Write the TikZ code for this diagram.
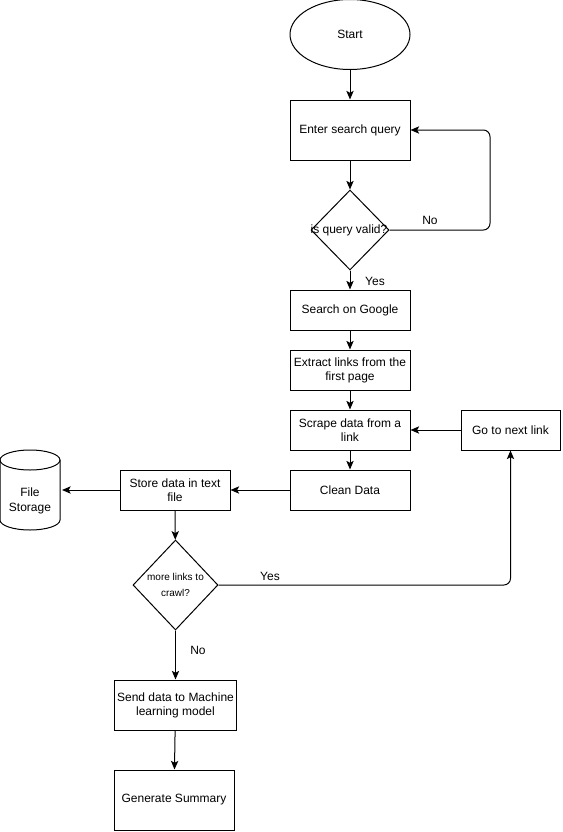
\documentclass[tikz,border=0pt]{standalone}
\usepackage{fontspec}
\setmainfont{Liberation Sans}
\usetikzlibrary{shapes.geometric,arrows.meta}
\begin{document}
\begin{tikzpicture}[x=0.75pt,y=-0.75pt,
  every node/.style={font=\fontsize{9}{10.5}\selectfont, inner sep=0pt},
  box/.style={draw, line width=0.75pt, fill=white, align=center},
  arr/.style={draw, line width=0.75pt, -{Stealth[length=6.5pt,width=5.5pt,inset=1.5pt]}},
  lbl/.style={font=\fontsize{9}{10.5}\selectfont}
]
\useasboundingbox (0,0) rectangle (562,832);
% nodes
\node[ellipse, draw, line width=0.75pt, minimum width=90pt, minimum height=52.5pt] (start) at (350,34.5) {Start};
\node[box, minimum width=90pt, minimum height=45pt] (enter) at (350,130) {Enter search query};
\node[diamond, draw, line width=0.75pt, fill=white, minimum width=58.5pt, minimum height=60pt] (d1) at (350,230) {};
\node (d1t) at (349,230) {is query valid?};
\node[box, minimum width=90pt, minimum height=30pt] (search) at (350,310) {Search on Google};
\node[box, minimum width=90pt, minimum height=30pt] (extract) at (350,370) {Extract links from the\\first page};
\node[box, minimum width=90pt, minimum height=30pt] (scrape) at (350,430) {Scrape data from a\\link};
\node[box, minimum width=74.25pt, minimum height=30pt] (next) at (510.5,430) {Go to next link};
\node[box, minimum width=90pt, minimum height=30pt] (clean) at (350,490) {Clean Data};
\node[box, minimum width=82.5pt, minimum height=30pt] (store) at (175,490) {Store data in text\\file};
% cylinder
\draw[line width=0.75pt, fill=white] (0,460) -- (0,520) arc[start angle=180, end angle=360, x radius=22.5pt, y radius=7.5pt] -- (60,460) arc[start angle=0, end angle=180, x radius=22.5pt, y radius=7.5pt] -- cycle;
\draw[line width=0.75pt] (0,460) arc[start angle=180, end angle=360, x radius=22.5pt, y radius=7.5pt];
\node[minimum width=45pt, minimum height=60pt, align=center, font=\fontsize{9}{11}\selectfont] (fs) at (30,501) {File\\Storage};
\node[diamond, draw, line width=0.75pt, fill=white, minimum width=63.75pt, minimum height=67.5pt] (d2) at (175.5,585) {};
\node[font=\fontsize{7.5}{12}\selectfont, align=center] (d2t) at (175.5,585) {more links to\\crawl?};
\node[box, minimum width=91.5pt, minimum height=37.5pt] (send) at (175.5,705) {Send data to Machine\\learning model};
\node[box, minimum width=90pt, minimum height=45pt] (gen) at (174,800) {Generate Summary};
% connectors
\draw[arr] (start) -- (enter);
\draw[arr] (enter) -- (d1);
\coordinate (noturn) at (490,230);
\draw[arr, rounded corners=5pt] (d1.east) -- (noturn) |- (enter.east);
\node[lbl] (no1) at (430,220) {No};
\draw[arr] (d1.south) -- (search.north);
\node[lbl] (yes1) at (375,281) {Yes};
\draw[arr] (search) -- (extract);
\draw[arr] (extract) -- (scrape);
\draw[arr] (next) -- (scrape);
\draw[arr] (scrape) -- (clean);
\draw[arr] (clean) -- (store);
\draw[arr] (store.west) -- (62,490);
\draw[arr] (store) -- (d2);
\draw[arr, rounded corners=5pt] (d2.east) -| (next.south);
\node[lbl] (yes2) at (270,576) {Yes};
\draw[arr] (d2.south) -- (send.north);
\node[lbl] (no2) at (198,650) {No};
\draw[arr] (send) -- (gen);
\end{tikzpicture}
\end{document}
